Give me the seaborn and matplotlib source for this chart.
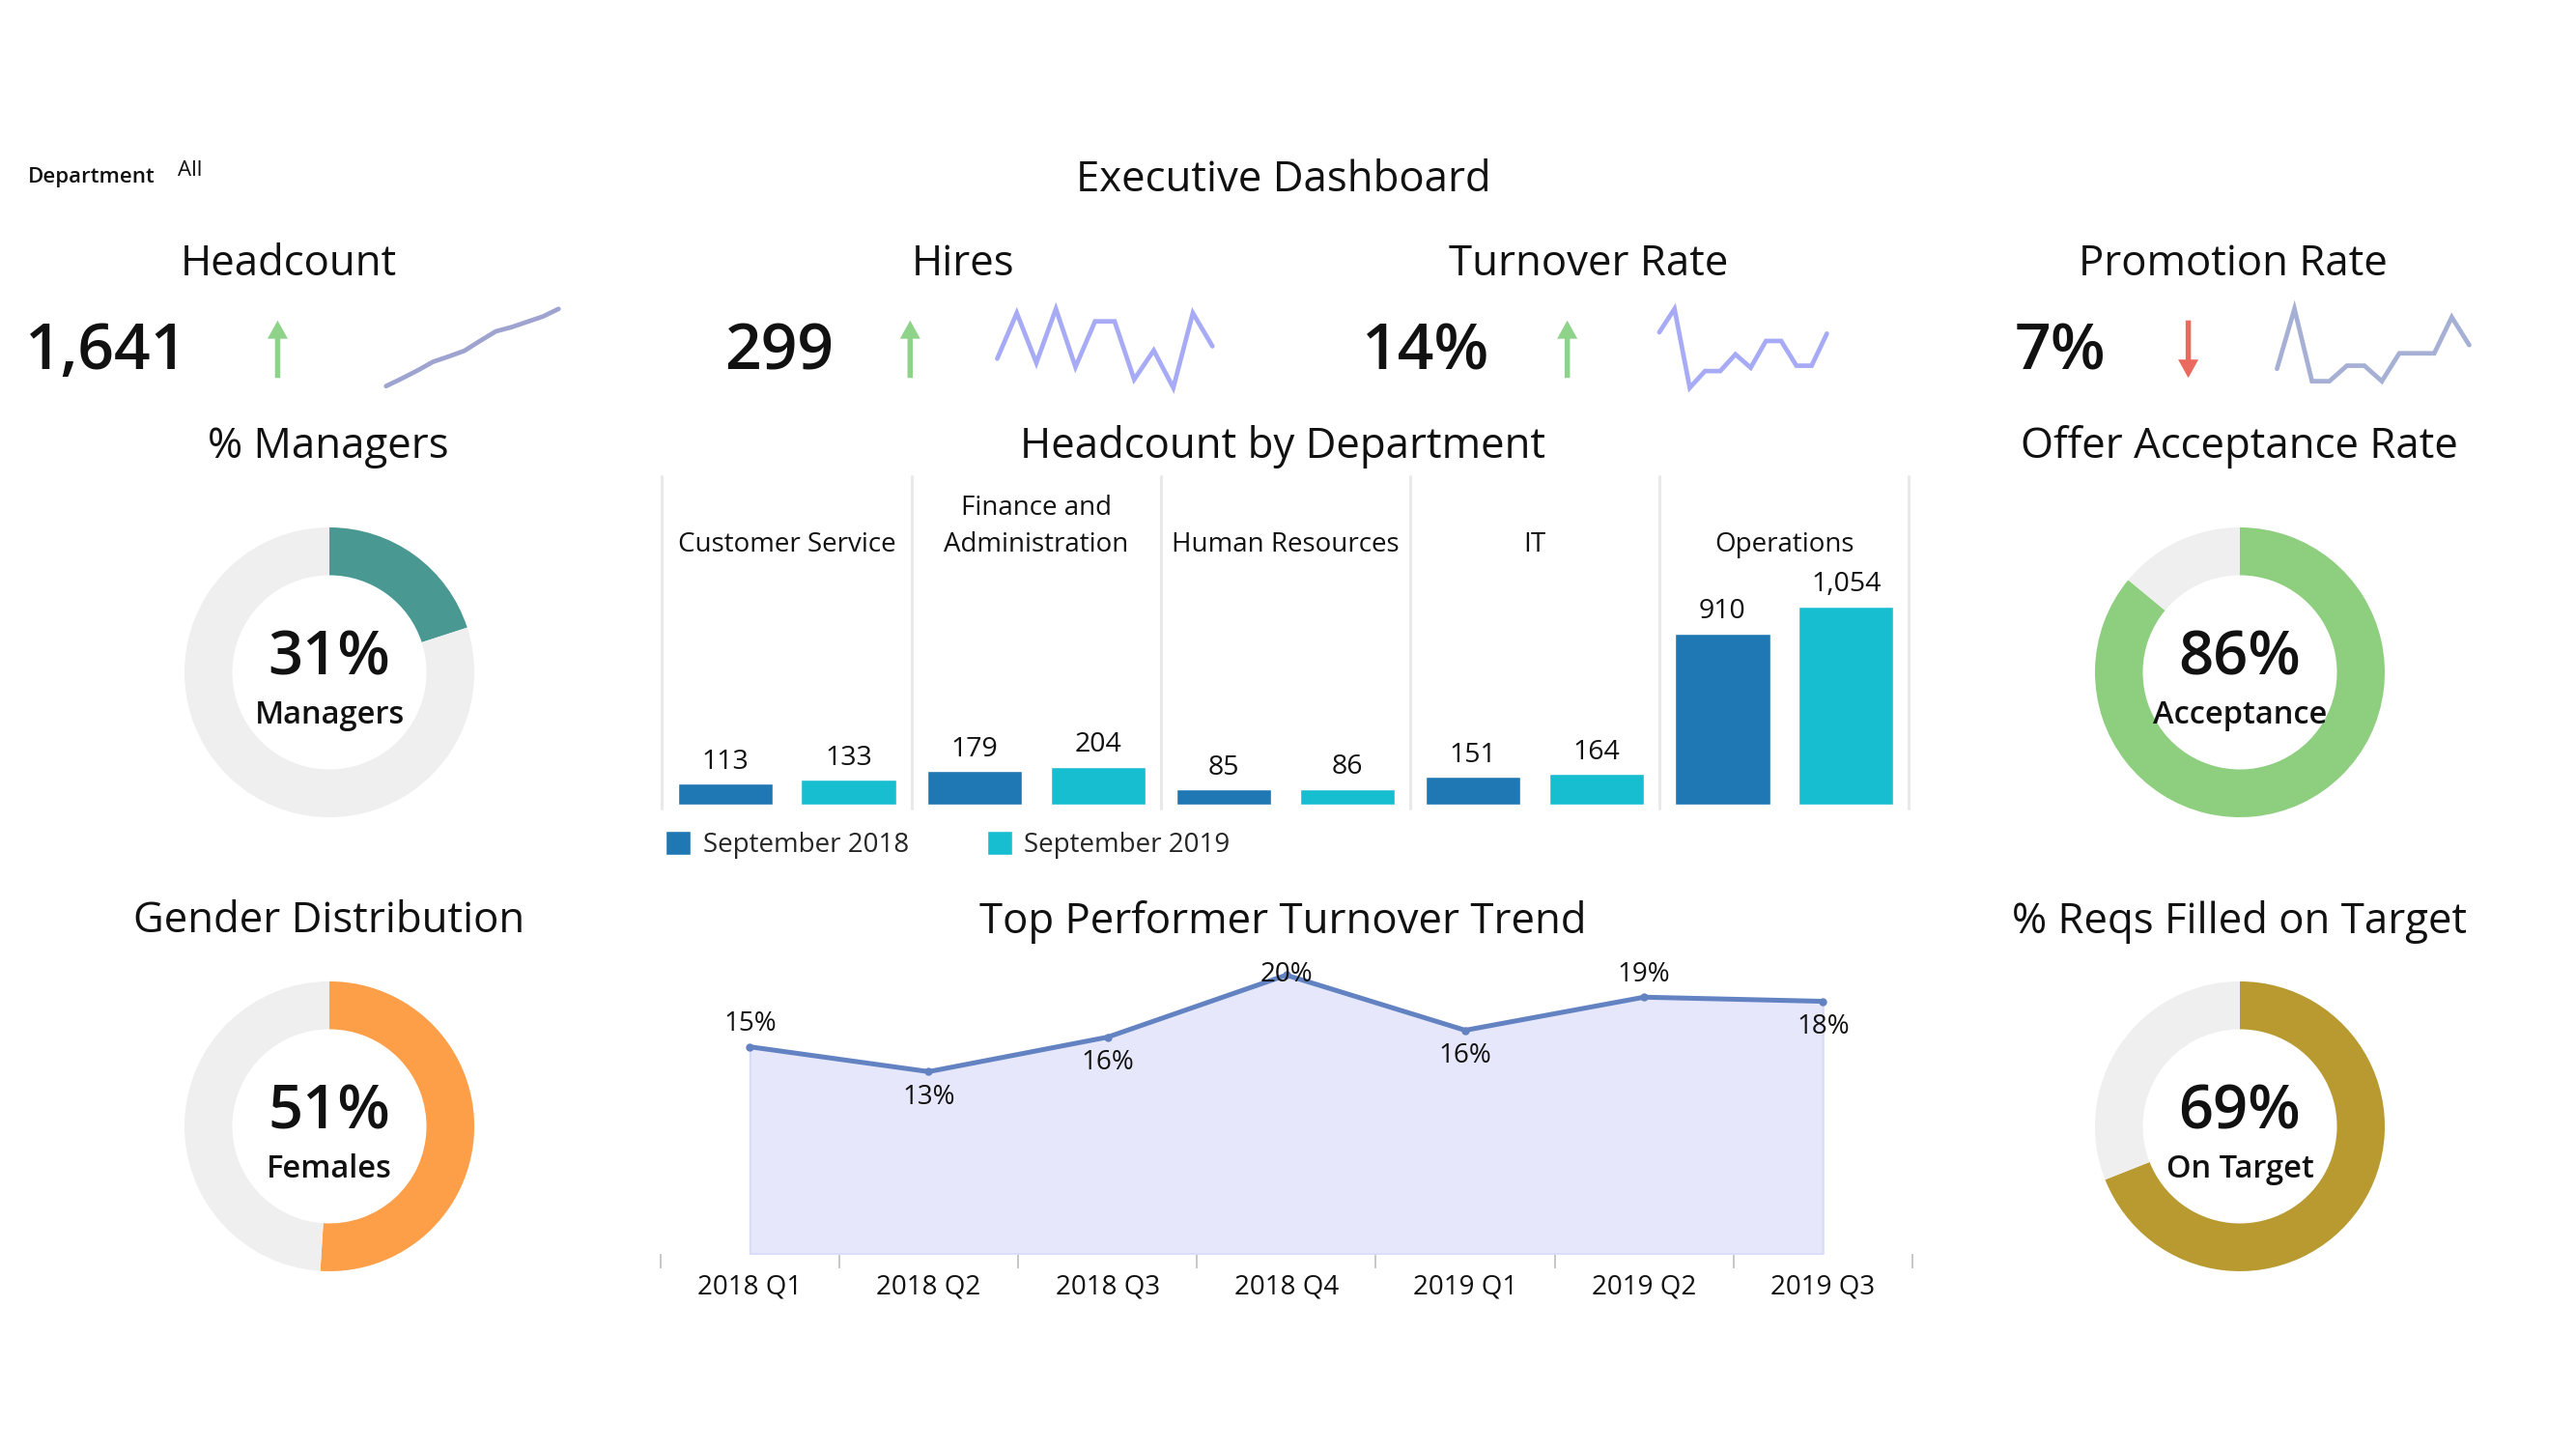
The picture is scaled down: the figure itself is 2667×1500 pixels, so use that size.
import textwrap
import numpy as np
import pandas as pd
import matplotlib
matplotlib.use("Agg")
import matplotlib.pyplot as plt
import seaborn as sns
from matplotlib.patches import FancyArrow

# ------------------------------------------------------------------ data
kpi_titles = ["Headcount", "Hires", "Turnover Rate", "Promotion Rate"]
kpi_values = ["1,641", "299", "14%", "7%"]
kpi_direction = ["up", "up", "up", "down"]

spark_headcount = [1438, 1458, 1479, 1502, 1516, 1531, 1557, 1582, 1593, 1607, 1621, 1641]
spark_hires = [23, 34, 22, 35, 21, 32, 32, 18, 25, 16, 34, 26]
spark_turnover = [16.8, 20.3, 8.5, 11.0, 11.0, 13.5, 11.5, 15.5, 15.5, 11.8, 11.8, 16.6]
spark_promotion = [6.0, 11.8, 4.8, 4.8, 6.3, 6.3, 4.8, 7.5, 7.5, 7.5, 11.0, 8.3]

departments = ["Customer Service", "Finance and Administration", "Human Resources", "IT", "Operations"]
periods = ["September 2018", "September 2019"]
headcount_sep2018 = [113, 179, 85, 151, 910]
headcount_sep2019 = [133, 204, 86, 164, 1054]

quarters = ["2018 Q1", "2018 Q2", "2018 Q3", "2018 Q4", "2019 Q1", "2019 Q2", "2019 Q3"]
top_performer_turnover = [15.0, 13.2, 15.7, 20.2, 16.2, 18.6, 18.3]

donut_titles = ["% Managers", "Offer Acceptance Rate", "Gender Distribution", "% Reqs Filled on Target"]
donut_labels = ["31%", "86%", "51%", "69%"]
donut_captions = ["Managers", "Acceptance", "Females", "On Target"]
donut_arc_share = [0.20, 0.86, 0.51, 0.69]

# ------------------------------------------------------------------ style
sns.set_theme(style="white")
plt.rcParams["font.family"] = ["Open Sans", "DejaVu Sans"]
TXT = "#111111"
GREEN, RED = "#8fd38a", "#ea6a5f"
BAR_COLORS = ["#1f77b4", "#17becf"]
DONUT_COLORS = ["#4a9892", "#8ecf7f", "#fd9f48", "#b89a30"]
RING_BG = "#efefef"
SPARK_COLORS = ["#9ea3cf", "#a7abf6", "#a7abf6", "#a6afd4"]
TITLE_FS = 31.5

W, H = 2667, 1500
S = W / 1568.0  # layout measured on a 1568-wide grid


def P(v):
    return v * S


fig = plt.figure(figsize=(W / 100, H / 100), dpi=100)
fig.patch.set_facecolor("white")


def add_ax(x0, y0, x1, y1, **kw):
    ax = fig.add_axes([P(x0) / W, 1 - P(y1) / H, P(x1 - x0) / W, P(y1 - y0) / H], **kw)
    ax.set_facecolor("none")
    return ax


# ------------------------------------------------------------------ sparklines
spark_boxes = [(235, 188, 340, 235), (607, 188, 738, 236), (1010, 188, 1112, 236), (1386, 188, 1503, 232)]
for vals, box, col in zip([spark_headcount, spark_hires, spark_turnover, spark_promotion], spark_boxes, SPARK_COLORS):
    ax = add_ax(*box)
    sns.lineplot(x=np.arange(len(vals)), y=vals, ax=ax, color=col, lw=3.4)
    ax.margins(0)
    for ln in ax.lines:
        ln.set_clip_on(False)
        ln.set_solid_joinstyle("miter")
    ax.axis("off")

# ------------------------------------------------------------------ bar chart
df_bar = pd.DataFrame({
    "Department": departments * 2,
    "Period": [periods[0]] * len(departments) + [periods[1]] * len(departments),
    "Headcount": headcount_sep2018 + headcount_sep2019,
})
axb = add_ax(403, 290, 1162, 490)
sns.barplot(data=df_bar, x="Department", y="Headcount", hue="Period", hue_order=periods,
            palette=BAR_COLORS, saturation=1, width=0.99, gap=0.232, errorbar=None, ax=axb)
axb.set_ylim(0, max(headcount_sep2019) * 200 / 121)
axb.set_xlim(-0.5, len(departments) - 0.5)
for s in axb.spines.values():
    s.set_visible(False)
axb.set_xticks([]); axb.set_yticks([])
axb.set_xlabel(""); axb.set_ylabel("")
for xb in np.arange(-0.5, len(departments), 1.0):
    axb.axvline(xb, ymin=-0.01, ymax=1, color="#e9e9e9", lw=2.2, clip_on=False, zorder=0)
for cont in axb.containers:
    axb.bar_label(cont, labels=[f"{v:,.0f}" for v in cont.datavalues], padding=6,
                  fontsize=20.5, color=TXT)
for i, d in enumerate(departments):
    axb.text(i, 0.752, textwrap.fill(d, 16), transform=axb.get_xaxis_transform(),
             ha="center", va="bottom", fontsize=20, color=TXT, linespacing=1.45)
sns.move_legend(axb, "center left", bbox_to_anchor=(P(405) / W, 1 - P(514) / H),
                bbox_transform=fig.transFigure, title=None, ncol=2, frameon=False,
                fontsize=20, handlelength=0.95, handleheight=1.05, handletextpad=0.45,
                columnspacing=2.9, borderpad=0, borderaxespad=0)

# ------------------------------------------------------------------ line / area chart
axl = add_ax(402, 575, 1164, 763)
xq = np.arange(len(quarters))
axl.fill_between(xq, top_performer_turnover, 0, color="#e6e7fb", ec="#d9dcf7", lw=1.5, zorder=1)
sns.lineplot(x=xq, y=top_performer_turnover, ax=axl, color="#6282c2", lw=3.6,
             marker="o", markersize=6, markeredgewidth=0, zorder=3)
for ln in axl.lines:
    ln.set_clip_on(False)
axl.set_xlim(-0.5, len(quarters) - 0.5)
axl.set_ylim(0, 22.4)
for s in axl.spines.values():
    s.set_visible(False)
axl.set_yticks([])
axl.set_ylabel(""); axl.set_xlabel("")
axl.set_xticks(xq)
axl.set_xticklabels(quarters)
axl.set_xticks(np.arange(-0.5, len(quarters), 1.0), minor=True)
axl.tick_params(axis="x", which="major", length=0, pad=15, labelsize=20, labelcolor=TXT)
axl.tick_params(axis="x", which="minor", bottom=True, length=11, width=1.2, color="#bdbdbd", direction="out")
placement = ["above", "below", "below", "on", "below", "above", "below"]
offsets = {"above": 17, "below": -19, "on": 0}
for xi, v, pl in zip(xq, top_performer_turnover, placement):
    axl.annotate(f"{v:.0f}%", (xi, v), xytext=(0, offsets[pl]), textcoords="offset points",
                 ha="center", va="center", fontsize=20, color=TXT, annotation_clip=False, zorder=4)

# ------------------------------------------------------------------ donuts
donut_centers = [(200.5, 409.2), (1363.4, 409.2), (200.5, 685.5), (1363.4, 685.5)]
R = 88.2
for (cx, cy), share, col in zip(donut_centers, donut_arc_share, DONUT_COLORS):
    ax = add_ax(cx - R, cy - R, cx + R, cy + R)
    ax.pie([share, 1 - share], colors=[col, RING_BG], startangle=90, counterclock=False,
           wedgeprops=dict(width=0.33, linewidth=0))
    ax.set_xlim(-1, 1); ax.set_ylim(-1, 1)

# ------------------------------------------------------------------ overlay text
ov = fig.add_axes([0, 0, 1, 1], zorder=10)
ov.set_xlim(0, W); ov.set_ylim(H, 0)
ov.set_facecolor("none")
ov.axis("off")


def T(x, y, s, **kw):
    kw.setdefault("color", TXT)
    ov.text(P(x), P(y), s, **kw)


T(17, 108, "Department", fontsize=16, fontweight="semibold", ha="left", va="center")
T(108, 104, "All", fontsize=16, ha="left", va="center")
T(781, 110, "Executive Dashboard", fontsize=TITLE_FS, ha="center", va="center")

kpi_title_x = [176, 586, 967, 1359]
kpi_value_x = [15, 441, 829, 1226]
arrow_x = [169, 554, 954, 1332]
for t, v, d, tx, vx, axx in zip(kpi_titles, kpi_values, kpi_direction, kpi_title_x, kpi_value_x, arrow_x):
    T(tx, 161, t, fontsize=TITLE_FS, ha="center", va="center")
    T(vx, 215, v, fontsize=47.5, fontweight="semibold", ha="left", va="center")
    col = GREEN if d == "up" else RED
    top, bot = P(195), P(230)
    if d == "up":
        y0, dy = bot, top - bot
    else:
        y0, dy = top, bot - top
    ov.add_patch(FancyArrow(P(axx), y0, 0, dy, width=5.5, head_width=21, head_length=19,
                            length_includes_head=True, color=col, lw=0))

section_pos = [(200, 272), (1363, 272), (200, 561), (1363, 561)]
for t, (x, y) in zip(donut_titles, section_pos):
    T(x, y, t, fontsize=TITLE_FS, ha="center", va="center")
T(781, 272, "Headcount by Department", fontsize=TITLE_FS, ha="center", va="center")
T(781, 561, "Top Performer Turnover Trend", fontsize=TITLE_FS, ha="center", va="center")

for (cx, cy), lab, cap in zip(donut_centers, donut_labels, donut_captions):
    T(cx, cy - 8.5, lab, fontsize=45.5, fontweight="semibold", ha="center", va="center")
    T(cx, cy + 26, cap, fontsize=23.5, fontweight="semibold", ha="center", va="center")

fig.savefig("out.png", dpi=100, facecolor="white")
